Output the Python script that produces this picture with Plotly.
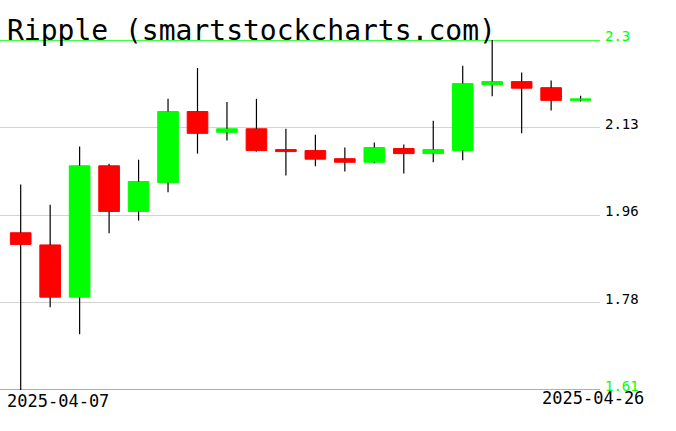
import pandas as pd
import plotly.graph_objects as go

# daily XRP candles
dates = pd.date_range("2025-04-07", periods=20, freq="D")
opens = [1.920, 1.896, 1.793, 2.052, 1.962, 2.019, 2.159, 2.118, 2.125, 2.084,
         2.082, 2.066, 2.059, 2.086, 2.076, 2.082, 2.212, 2.218, 2.206, 2.181]
highs = [2.015, 1.975, 2.090, 2.056, 2.064, 2.184, 2.245, 2.178, 2.184, 2.125,
         2.113, 2.088, 2.098, 2.094, 2.141, 2.249, 2.300, 2.236, 2.220, 2.190]
lows = [1.610, 1.773, 1.720, 1.919, 1.944, 2.000, 2.076, 2.102, 2.080, 2.033,
        2.051, 2.041, 2.057, 2.037, 2.059, 2.063, 2.189, 2.116, 2.161, 2.179]
closes = [1.897, 1.793, 2.052, 1.962, 2.021, 2.159, 2.116, 2.125, 2.082, 2.080,
          2.065, 2.059, 2.088, 2.076, 2.084, 2.214, 2.218, 2.205, 2.181, 2.184]

y_ticks = [1.61, 1.7825, 1.955, 2.1275, 2.3]
y_labels = ["1.61", "1.78", "1.96", "2.13", "2.3"]
title = "Ripple (smartstockcharts.com)"

GREEN = "#00ff00"
RED = "#ff0000"
MONO = "DejaVu Sans Mono"
DAY_MS = 86400000

fig = go.Figure()

# wicks first, split so they stop at the bodies
wx, wy = [], []
for d, o, h, l, c in zip(dates, opens, highs, lows, closes):
    wx += [d, d, None, d, d, None]
    wy += [h, max(o, c), None, min(o, c), l, None]
fig.add_trace(go.Scatter(x=wx, y=wy, mode="lines",
                         line=dict(color="black", width=1.2),
                         showlegend=False, hoverinfo="skip"))

# candle bodies as floating bars
body_colors = [GREEN if c >= o else RED for o, c in zip(opens, closes)]
fig.add_trace(go.Bar(
    x=dates, base=opens, y=[c - o for o, c in zip(opens, closes)],
    width=0.70 * DAY_MS,
    marker=dict(color=body_colors, line=dict(color=body_colors, width=1)),
    showlegend=False, hoverinfo="skip",
))

tick_text = []
for v, t in zip(y_ticks, y_labels):
    if v in (y_ticks[0], y_ticks[-1]):
        tick_text.append(f"<span style='color:{GREEN}'>{t}</span>")
    else:
        tick_text.append(t)

x0 = dates[0] - pd.Timedelta(hours=16.85)
x1 = dates[-1] + pd.Timedelta(hours=15.8)

fig.update_layout(
    width=676, height=431,
    margin=dict(l=0, r=76, t=40, b=41, pad=0),
    paper_bgcolor="white", plot_bgcolor="white",
    font=dict(family=MONO, color="black"),
    xaxis=dict(range=[x0, x1], showgrid=False, showticklabels=False,
               zeroline=False, fixedrange=True, automargin=False),
    yaxis=dict(range=[y_ticks[0], y_ticks[-1]], side="right",
               tickvals=y_ticks, ticktext=tick_text,
               ticklabelposition="outside top", ticks="",
               ticklabelstandoff=4, ticklabelshift=6, automargin=False,
               tickfont=dict(family=MONO, size=14, color="black"),
               showgrid=True, gridcolor="#d3d3d3", gridwidth=1,
               zeroline=False, showline=False, fixedrange=True),
)

for v in (y_ticks[0], y_ticks[-1]):
    fig.add_shape(type="line", xref="paper", yref="y", x0=0, x1=1, y0=v, y1=v,
                  line=dict(color=GREEN, width=1.3), layer="below")

fig.add_annotation(text=title, xref="paper", yref="paper", x=0.008, y=1,
                   xanchor="left", yanchor="bottom", yshift=-9, showarrow=False,
                   font=dict(family=MONO, size=28, color="black"))
fig.add_annotation(text=dates[0].strftime("%Y-%m-%d"), xref="paper", yref="paper",
                   x=0.008, y=0, xanchor="left", yanchor="top", yshift=1,
                   showarrow=False, font=dict(family=MONO, size=17, color="black"))
fig.add_annotation(text=dates[-1].strftime("%Y-%m-%d"), xref="paper", yref="paper",
                   x=1.076, y=0, xanchor="right", yanchor="top", yshift=4,
                   showarrow=False, font=dict(family=MONO, size=17, color="black"))

# page body has a default 8px margin; drop it so the chart sits at the corner
fig.write_html("out.html", config={"displayModeBar": False},
               post_script="document.body.style.margin='0';")
